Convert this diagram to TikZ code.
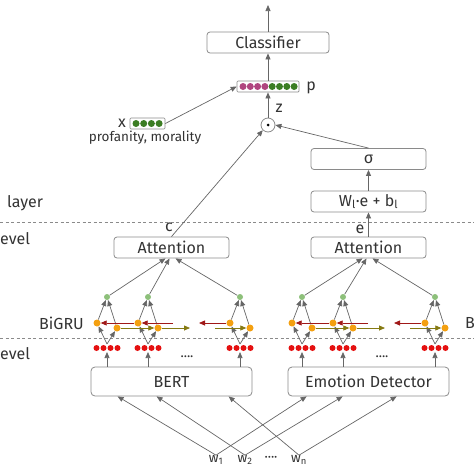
\documentclass[tikz,border=0pt]{standalone}
\usepackage{fontspec}
\setmainfont{Fira Sans}
\usetikzlibrary{arrows.meta,calc}
\definecolor{lgray}{HTML}{666666}
\definecolor{bgray}{HTML}{8A8A8A}
\definecolor{txt}{HTML}{333333}
\definecolor{dgreen}{HTML}{3B7D23}
\definecolor{lgreen}{HTML}{8DC07A}
\definecolor{mag}{HTML}{B0457F}
\definecolor{orng}{HTML}{F4A010}
\definecolor{rdot}{HTML}{E51010}
\definecolor{bwd}{HTML}{A01818}
\definecolor{fwd}{HTML}{857A12}
\begin{document}
\begin{tikzpicture}[x=1pt,y=-1pt,
  box/.style={draw=bgray, rounded corners=3pt, line width=0.8pt, minimum height=21pt, inner sep=0pt, font=\fontsize{16}{18}\selectfont, text=txt},
  conn/.style={draw=lgray, line width=0.7pt, -{Triangle[length=6pt,width=5pt]}},
  vec/.style={draw=bgray, line width=0.7pt, rounded corners=1pt, inner sep=0pt, minimum height=11pt},
  dot/.style={circle, inner sep=0pt, minimum size=7pt},
  sdot/.style={circle, inner sep=0pt, minimum size=6pt},
  lbl/.style={text=txt, inner sep=0pt, font=\fontsize{16}{18}\selectfont},
  slbl/.style={text=txt, inner sep=0pt, font=\fontsize{13.5}{15}\selectfont},
  bwarr/.style={draw=bwd, line width=0.8pt, -{Triangle[length=6pt,width=5pt]}},
  fwarr/.style={draw=fwd, line width=0.8pt, -{Triangle[length=6pt,width=5pt]}},
  dsh/.style={draw=bgray, line width=0.7pt, dash pattern=on 3pt off 2.5pt}
]
\useasboundingbox (0,0) rectangle (474,474);

% dashed separators
\coordinate (d1a) at (0,222); \coordinate (d1b) at (474,222);
\coordinate (d2a) at (0,338); \coordinate (d2b) at (474,338);
\draw[dsh] (d1a) -- (d1b);
\draw[dsh] (d2a) -- (d2b);

% side labels
\node[lbl, anchor=west] (llayer) at (7,203) {layer};
\node[lbl, anchor=west] (lev1) at (0,239) {evel};
\node[lbl, anchor=west] (lbigru) at (39,323) {BiGRU};
\node[lbl, anchor=west] (lev2) at (0,354) {evel};
\node[lbl, anchor=west] (lb) at (465,323) {B};

% top part
\node[box, minimum width=122pt] (cls) at (268,42.5) {Classifier};
\coordinate (out) at (268,5);
\draw[conn] (cls.north) -- (out);

\node[vec, minimum width=62pt] (pvec) at (268,86.5) {};
\foreach \i in {0,...,3} \node[dot, fill=mag] (pm\i) at (243+7.3*\i,86.5) {};
\foreach \i in {4,...,7} \node[dot, fill=dgreen] (pg\i) at (243+7.3*\i,86.5) {};
\node[lbl] (plbl) at (311,88) {p};
\draw[conn] (pvec.north) -- (cls.south);

\node[vec, minimum width=35pt] (xvec) at (147.5,123.5) {};
\foreach \i in {0,...,3} \node[dot, fill=dgreen] (xg\i) at (136+7.7*\i,123.5) {};
\node[lbl] (xlbl) at (122,123) {x};
\node[slbl] (prof) at (145,138) {profanity, morality};
\draw[conn] (xvec.east) -- (pvec.west);

\node[circle, draw=bgray, line width=0.8pt, minimum size=14pt, inner sep=0pt] (od) at (268,125) {};
\node[circle, fill=black, minimum size=3pt, inner sep=0pt] (odc) at (268,125) {};
\node[lbl] (zlbl) at (279,108) {z};
\draw[conn] (od.north) -- (pvec.south);

% right branch
\node[box, minimum width=115pt] (sig) at (368.5,159) {σ};
\node[box, minimum width=115pt] (wl) at (368.5,201.5) {W\textsubscript{l}·e + b\textsubscript{l}};
\node[box, minimum width=115pt] (att2) at (368.5,247.5) {Attention};
\node[lbl] (elbl) at (360,229) {e};
\draw[conn] (att2.north) -- (wl.south);
\draw[conn] (wl.north) -- (sig.south);
\draw[conn] (sig.north) -- (od.east);

% left branch
\node[box, minimum width=115pt] (att1) at (171.5,247.5) {Attention};
\node[lbl] (clbl) at (169,227) {c};
\draw[conn] (att1.north) -- (od.south west);

% bottom boxes
\node[box, minimum width=161pt, minimum height=29pt, rounded corners=4pt] (bert) at (171.5,381.5) {BERT};
\node[box, minimum width=161pt, minimum height=29pt, rounded corners=4pt] (emo) at (368.5,381.5) {Emotion Detector};

% words
\node[slbl] (w1) at (216,460) {w\textsubscript{1}};
\node[slbl] (w2) at (245,460) {w\textsubscript{2}};
\node[slbl] (wd) at (271,459) {····};
\node[slbl] (wn) at (299,460) {w\textsubscript{n}};
\draw[conn] (w1.north) -- ([xshift=27pt]bert.south west);
\draw[conn] (w2.north) -- ([xshift=66pt]bert.south west);
\draw[conn] (wn.north) -- ([xshift=138pt]bert.south west);
\draw[conn] (w1.north) -- ([xshift=19pt]emo.south west);
\draw[conn] (w2.north) -- ([xshift=55pt]emo.south west);
\draw[conn] (wn.north) -- ([xshift=109pt]emo.south west);

% BiGRU units
\foreach \side/\att/\enc/\off in {L/att1/bert/0, R/att2/emo/195}{
  \foreach \k/\g/\ax in {1/107/-6, 2/148/-2, 3/240/4}{
    \pgfmathsetmacro{\gx}{\g+\off}
    \node[sdot, fill=lgreen] (g\side\k) at (\gx,297) {};
    \node[dot, fill=orng] (ou\side\k) at (\gx-10,323) {};
    \node[dot, fill=orng] (ol\side\k) at (\gx+10,328) {};
    \foreach \j in {0,...,3}
      \node[sdot, fill=rdot] (r\side\k\j) at (\gx-10.5+7*\j,348) {};
    \coordinate (rc\side\k) at (\gx,344);
    \coordinate (rb\side\k) at (\gx,352);
    \draw[conn] (\enc.north -| rb\side\k) -- (rb\side\k);
    \draw[conn] (rc\side\k) -- (ou\side\k);
    \draw[conn] (rc\side\k) -- (ol\side\k);
    \draw[conn] (ou\side\k) -- (g\side\k);
    \draw[conn] (ol\side\k) -- (g\side\k);
    \draw[conn] (g\side\k) -- ([xshift=\ax pt]\att.south);
  }
  \pgfmathsetmacro{\ea}{173+\off}
  \pgfmathsetmacro{\eb}{199+\off}
  \pgfmathsetmacro{\ec}{190+\off}
  \pgfmathsetmacro{\ed}{215+\off}
  \coordinate (bA\side) at (\ea,323);
  \coordinate (bB\side) at (\eb,323);
  \coordinate (fA\side) at (\ec,328);
  \coordinate (fB\side) at (\ed,328);
  \draw[bwarr] (ou\side2) -- (ou\side1);
  \draw[bwarr] (bA\side) -- (ou\side2);
  \draw[bwarr] (ou\side3) -- (bB\side);
  \draw[fwarr] (ol\side1) -- (ol\side2);
  \draw[fwarr] (ol\side2) -- (fA\side);
  \draw[fwarr] (fB\side) -- (ol\side3);
  \pgfmathsetmacro{\dx}{187+\off}
  \node[slbl] (dots\side) at (\dx,357) {....};
}
\end{tikzpicture}
\end{document}
